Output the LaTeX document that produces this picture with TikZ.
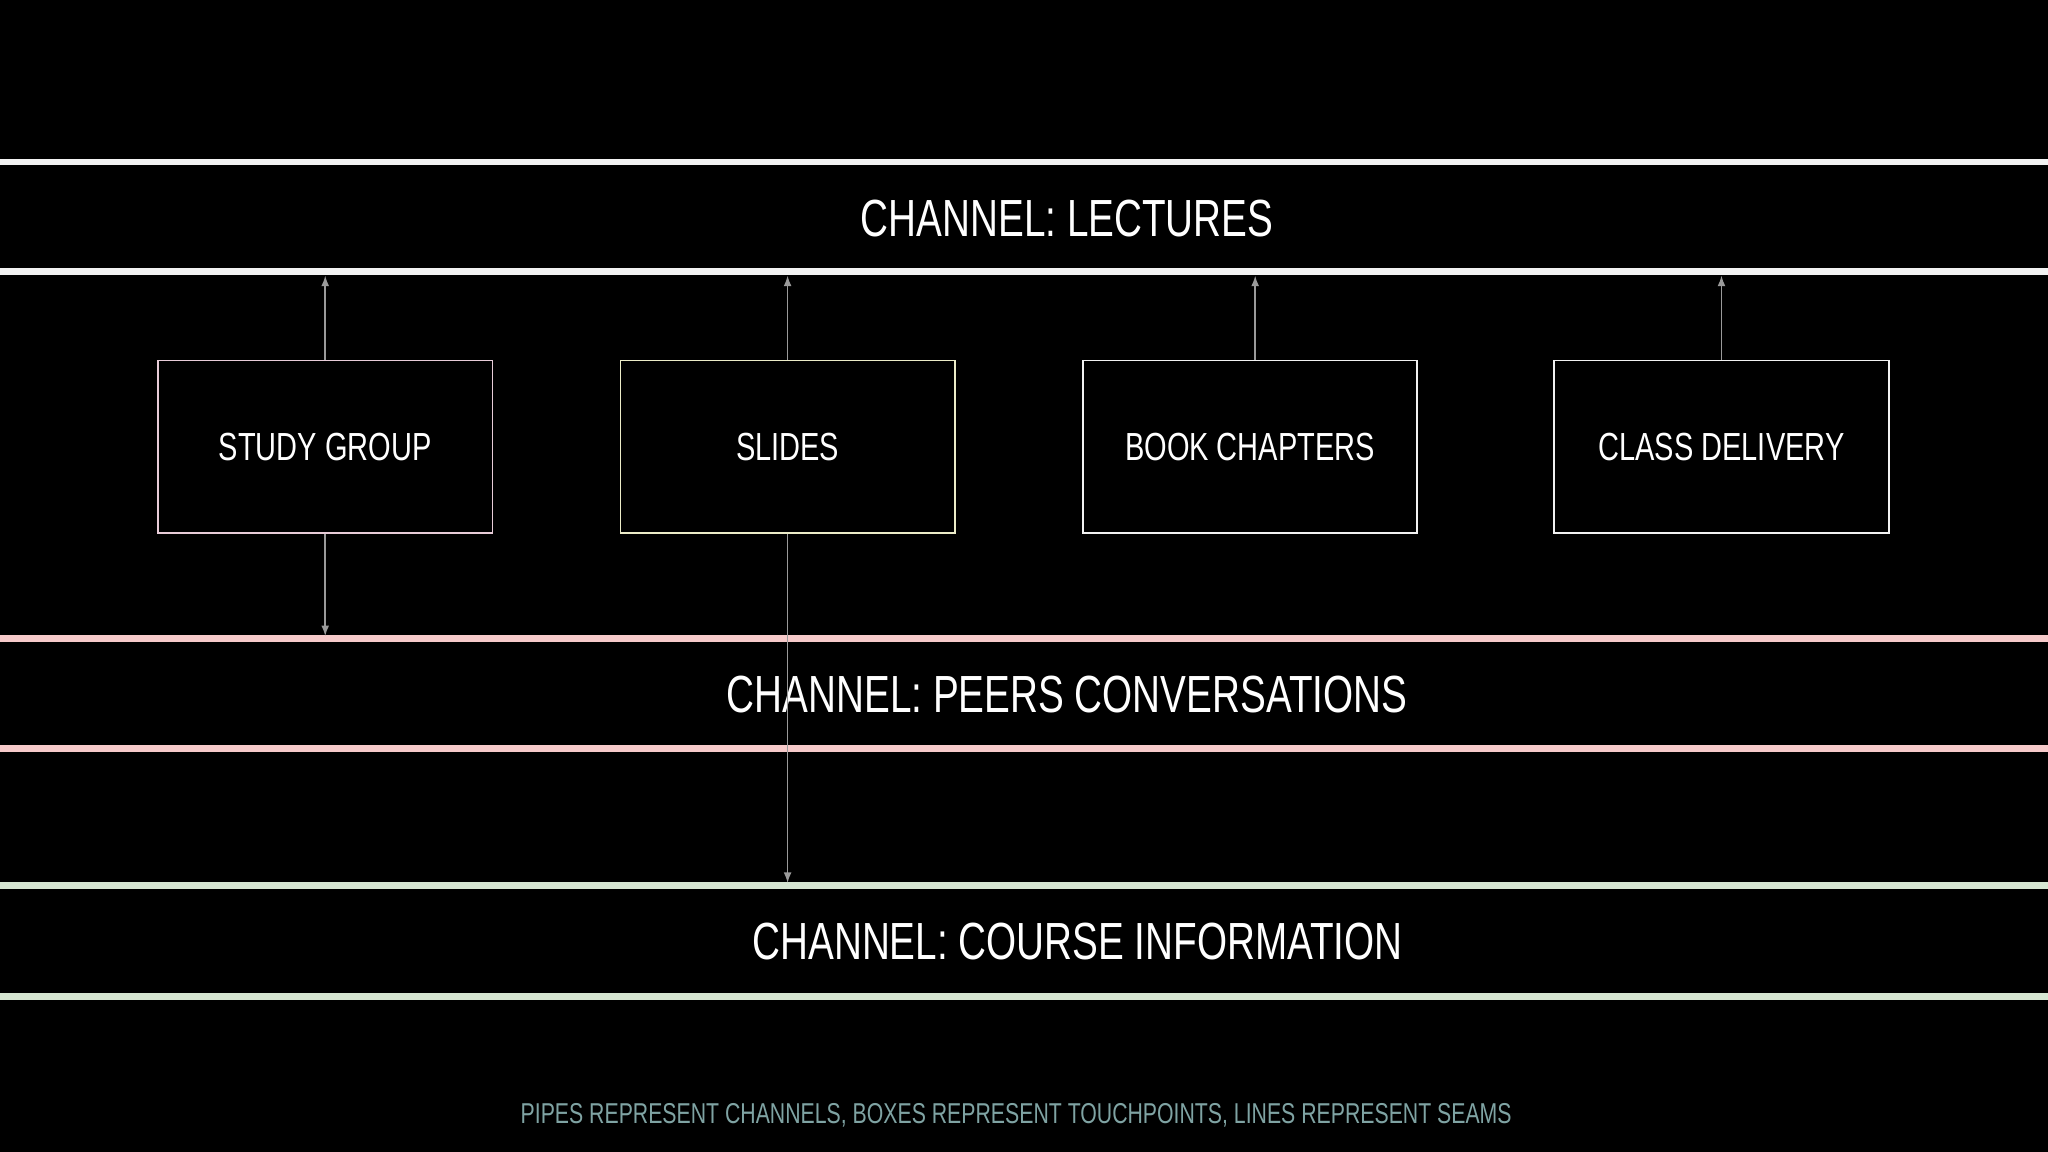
\documentclass[tikz,border=0pt]{standalone}
\usepackage{fontspec}
\setmainfont[FakeStretch=0.74]{Liberation Sans}
\usetikzlibrary{arrows.meta}
\definecolor{lw}{HTML}{F2F2F2}
\definecolor{lp}{HTML}{F6CACA}
\definecolor{lg}{HTML}{D6E6D2}
\definecolor{bp}{HTML}{E8CCD8}
\definecolor{by}{HTML}{ECECC8}
\definecolor{ar}{HTML}{9A9A9A}
\definecolor{ft}{HTML}{7FA3A3}
\begin{document}
\begin{tikzpicture}[x=0.5pt,y=-0.5pt,
 pipe/.style={line width=2.6pt},
 tbox/.style={draw,line width=0.7pt,minimum width=128pt,minimum height=66pt,inner sep=0pt,text=white,font=\fontsize{15}{18}\selectfont},
 ttl/.style={text=white,font=\fontsize{20}{24}\selectfont},
 conn/.style={draw=ar,line width=0.6pt,-{Latex[length=4pt,width=3pt]}}]
\fill[black] (0,0) rectangle (1568,882);
\useasboundingbox (0,0) rectangle (1568,882);
\draw[pipe,lw] (0,124) -- (1568,124);
\draw[pipe,lw] (0,208) -- (1568,208);
\draw[pipe,lp] (0,489) -- (1568,489);
\draw[pipe,lp] (0,573) -- (1568,573);
\draw[pipe,lg] (0,678) -- (1568,678);
\draw[pipe,lg] (0,763) -- (1568,763);
\node[ttl] (c1) at (817,167) {CHANNEL: LECTURES};
\node[ttl] (c3) at (825,721) {CHANNEL: COURSE INFORMATION};
\node[tbox,draw=bp] (b1) at (249,342) {STUDY GROUP};
\node[tbox,draw=by] (b2) at (603,342) {SLIDES};
\node[tbox,draw=lw] (b3) at (957,342) {BOOK CHAPTERS};
\node[tbox,draw=lw] (b4) at (1318,342) {CLASS DELIVERY};
\foreach \b/\x in {b1/249,b2/603,b3/961,b4/1318}{
  \coordinate (t\b) at (\x,211);
  \draw[conn] (\b.north -| t\b) -- (t\b);}
\coordinate (s1) at (249,487);
\coordinate (s2) at (603,676);
\draw[conn] (b1.south) -- (s1);
\node[ttl] (c2) at (817,532) {CHANNEL: PEERS CONVERSATIONS};
\draw[conn] (b2.south) -- (s2);
\node[text=ft,font=\fontsize{11}{13}\selectfont] (f) at (778,854) {PIPES REPRESENT CHANNELS, BOXES REPRESENT TOUCHPOINTS, LINES REPRESENT SEAMS};
\end{tikzpicture}
\end{document}
